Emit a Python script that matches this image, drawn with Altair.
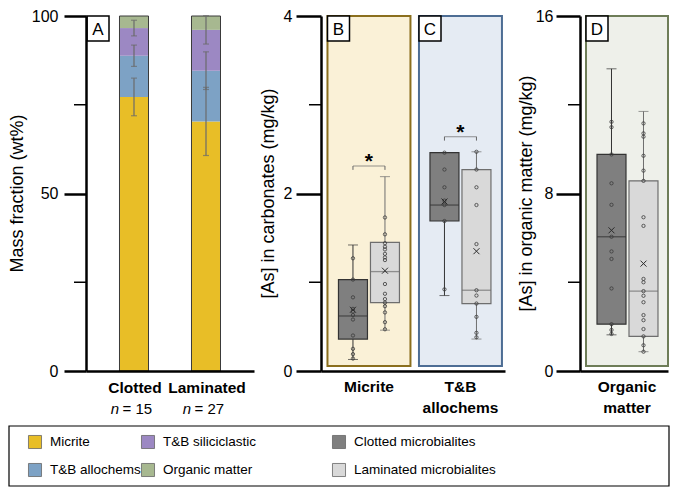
import altair as alt
import pandas as pd

# ---------------- Panel A : mass fractions (wt%) ----------------
categories = ["Clotted", "Laminated"]
sample_sizes = ["= 15", "= 27"]
components = ["Micrite", "T&B allochems", "T&B siliciclastic", "Organic matter"]
comp_colors = ["#E8BE27", "#7DA2C5", "#9C88C3", "#A7B890"]
clotted_wt = [77.2, 11.6, 7.8, 3.4]
laminated_wt = [70.3, 14.3, 11.5, 3.9]
# error bars (micrite, allochems, siliciclastic) drawn at the cumulative tops
clotted_sd = [5.3, 3.0, 2.2]
laminated_sd = [9.6, 5.3, 4.0]

# ---------------- Panels B-D : [As] (mg/kg) ----------------
series = ["Clotted microbialites", "Laminated microbialites"]
series_fill = ["#7F7F7F", "#D9D9D9"]
series_line = ["#333333", "#6E6E6E"]

carb_groups = ["Micrite", "T&B allochems"]
carb_labels = ["Micrite", "T&B\nallochems"]
carb_bg = ["#FAF1D7", "#E5EBF3"]
carb_edge = ["#8B6F1E", "#4D6D94"]
carb_sig = [2.31, 2.64]

om_groups = ["Organic matter"]
om_labels = ["Organic\nmatter"]
om_bg = ["#EEF0EA"]
om_edge = ["#6E7D58"]

micrite_clotted = [1.27, 1.03, 0.83, 0.70, 0.67, 0.63, 0.58, 0.40, 0.25, 0.19, 0.14]
micrite_laminated = [1.73, 1.54, 1.44, 1.40, 1.37, 1.32, 1.28, 1.25, 0.98, 0.87,
                     0.81, 0.77, 0.73, 0.66, 0.55, 0.47]
allochem_clotted = [2.46, 2.27, 2.07, 1.92, 1.87, 1.69, 0.92]
allochem_laminated = [2.47, 2.27, 2.07, 1.87, 1.43, 0.91, 0.85, 0.76, 0.61, 0.43, 0.38]
om_clotted = [11.23, 10.99, 9.76, 8.46, 7.49, 6.05, 5.39, 5.05, 3.72, 2.11, 1.85, 1.67]
om_laminated = [11.16, 10.71, 10.56, 9.70, 9.03, 8.57, 6.93, 6.54, 4.15, 4.00, 3.60,
                3.39, 3.10, 2.52, 2.29, 1.89, 1.56, 1.16, 0.87]

# box summaries: q1, median, q3, whisker low, whisker high, mean
micrite_clotted_box = [0.36, 0.62, 1.03, 0.13, 1.42, 0.69]
micrite_laminated_box = [0.77, 1.12, 1.45, 0.46, 2.19, 1.13]
allochem_clotted_box = [1.69, 1.87, 2.46, 0.85, 2.46, 1.91]
allochem_laminated_box = [0.76, 0.91, 2.27, 0.36, 2.47, 1.35]
om_clotted_box = [2.11, 6.05, 9.76, 1.63, 13.62, 6.34]
om_laminated_box = [1.56, 3.60, 8.57, 0.87, 11.70, 4.84]

# ---------------- legend ----------------
legend_labels = ["Micrite", "T&B allochems", "T&B siliciclastic", "Organic matter",
                 "Clotted microbialites", "Laminated microbialites"]
legend_colors = comp_colors + series_fill
legend_col = [0, 0, 1, 1, 2, 2]
legend_row = [0, 1, 0, 1, 0, 1]

FONT = "Liberation Sans"
H = 355
XSHAPE = "M-1,-1L1,1M-1,1L1,-1"


def y_axis(majors, tick, lab_pad):
    return alt.Axis(title=None, values=majors, tickSize=tick, tickWidth=2.5, tickColor="black",
                    domainWidth=2.5, domainColor="black", labelFontSize=16, labelColor="black",
                    labelPadding=lab_pad, grid=False, zindex=1)


x_axis = alt.Axis(title=None, labels=False, ticks=False, domainWidth=2.5,
                  domainColor="black", zindex=1)


def minor_ticks(vals, yscale, yax, length):
    return alt.Chart(pd.DataFrame({"m": vals})).mark_rule(color="black", strokeWidth=1.5).encode(
        y=alt.Y("m:Q", scale=yscale, axis=yax), x=alt.value(-length), x2=alt.value(0))


def y_title(text, xpos):
    return alt.Chart(pd.DataFrame({"t": [text]})).mark_text(
        angle=270, fontSize=18, color="black", align="center", baseline="middle").encode(
        x=alt.value(xpos), y=alt.value(H / 2), text="t:N")


def letter(ch, x0, w=22, h=25):
    d = pd.DataFrame({"t": [ch]})
    box = alt.Chart(d).mark_rect(fill="white", stroke="black", strokeWidth=1.5).encode(
        x=alt.value(x0), x2=alt.value(x0 + w), y=alt.value(0), y2=alt.value(h))
    txt = alt.Chart(d).mark_text(fontSize=17, color="black").encode(
        x=alt.value(x0 + w / 2), y=alt.value(h / 2 + 1), text="t:N")
    return [box, txt]


# ================= Panel A =================
rowsA, errA, totA = [], [], []
for cat, vals, sds in zip(categories, [clotted_wt, laminated_wt], [clotted_sd, laminated_sd]):
    cum = 0.0
    for k, (comp, v, col) in enumerate(zip(components, vals, comp_colors)):
        rowsA.append(dict(cat=cat, comp=comp, k=k, v=v, col=col))
        cum += v
        if k < len(sds):
            errA.append(dict(cat=cat, lo=cum - sds[k], hi=cum + sds[k]))
    totA.append(dict(cat=cat, total=cum))
dfA = pd.DataFrame(rowsA)
dfErr = pd.DataFrame(errA)
dfTot = pd.DataFrame(totA)
dfLabA = pd.DataFrame({"cat": categories, "n": sample_sizes})

WA = 168
xsA = alt.Scale(domain=categories, paddingInner=0.597, paddingOuter=0.465)
ysA = alt.Scale(domain=[0, 100], nice=False)
yaxA = y_axis([0, 50, 100], 22, 6)
XA = alt.X("cat:N", scale=xsA, axis=x_axis)

barsA = alt.Chart(dfA).mark_bar().encode(
    x=XA,
    y=alt.Y("v:Q", stack="zero", scale=ysA, axis=yaxA),
    fill=alt.Fill("col:N", scale=None),
    detail="comp:N",
    order=alt.Order("k:Q", sort="ascending"),
)
outlineA = alt.Chart(dfTot).mark_bar(fillOpacity=0, stroke="#3a3a3a", strokeWidth=1).encode(
    x=XA, y=alt.Y("total:Q", scale=ysA, axis=yaxA))
errRule = alt.Chart(dfErr).mark_rule(color="#6b6b6b", strokeWidth=1.2).encode(
    x=XA, y=alt.Y("lo:Q", scale=ysA, axis=yaxA), y2="hi:Q")
errLo = alt.Chart(dfErr).mark_tick(size=6, thickness=1.2, color="#6b6b6b").encode(
    x=XA, y=alt.Y("lo:Q", scale=ysA, axis=yaxA))
errHi = alt.Chart(dfErr).mark_tick(size=6, thickness=1.2, color="#6b6b6b").encode(
    x=XA, y=alt.Y("hi:Q", scale=ysA, axis=yaxA))
nameA = alt.Chart(dfLabA).mark_text(fontWeight="bold", fontSize=15.5, baseline="alphabetic",
                                    color="black", dx=1).encode(
    x=XA, y=alt.value(H + 22), text="cat:N")
nItA = alt.Chart(dfLabA).mark_text(fontStyle="italic", fontSize=15, align="right",
                                   baseline="alphabetic", color="black", dx=-15).encode(
    x=XA, y=alt.value(H + 43), text=alt.value("n"))
nValA = alt.Chart(dfLabA).mark_text(fontSize=15, align="left", baseline="alphabetic",
                                    color="black", dx=-11.5).encode(
    x=XA, y=alt.value(H + 43), text="n:N")

chartA = alt.layer(barsA, outlineA, errRule, errLo, errHi, minor_ticks([25, 75], ysA, yaxA, 12),
                   *letter("A", 1), nameA, nItA, nValA,
                   y_title("Mass fraction (wt%)", -68)).properties(width=WA, height=H)


# ================= Box-plot panels =================
def box_panel(groups, labels, bg, edge, pts, boxes, sig, ydom, majors, minors, title,
              title_x, W, xscale, xoscale, tick, lab_pad, letters):
    prow, brow = [], []
    for g, plist, blist in zip(groups, pts, boxes):
        for s, vals, b, f, l in zip(series, plist, blist, series_fill, series_line):
            for v in vals:
                prow.append(dict(group=g, series=s, value=v))
            brow.append(dict(group=g, series=s, q1=b[0], med=b[1], q3=b[2], lo=b[3],
                             hi=b[4], mean=b[5], fill=f, line=l))
    dfP = pd.DataFrame(prow)
    dfB = pd.DataFrame(brow)
    dfBg = pd.DataFrame({"group": groups, "bg": bg, "edge": edge, "label": labels})
    ys = alt.Scale(domain=ydom, nice=False)
    yax = y_axis(majors, tick, lab_pad)
    X = alt.X("group:N", scale=xscale, axis=x_axis)
    XO = alt.XOffset("series:N", scale=xoscale)

    def Y(f):
        return alt.Y(f"{f}:Q", scale=ys, axis=yax)

    layers = []
    layers.append(alt.Chart(dfBg).mark_bar(strokeWidth=2).encode(
        x=X, y=alt.value(0), y2=alt.value(H - 5),
        fill=alt.Fill("bg:N", scale=None), stroke=alt.Stroke("edge:N", scale=None)))
    layers += letters
    layers.append(alt.Chart(dfB).mark_rule(strokeWidth=1).encode(
        x=X, xOffset=XO, y=Y("lo"), y2="q1:Q", stroke=alt.Stroke("line:N", scale=None)))
    layers.append(alt.Chart(dfB).mark_rule(strokeWidth=1).encode(
        x=X, xOffset=XO, y=Y("q3"), y2="hi:Q", stroke=alt.Stroke("line:N", scale=None)))
    for fld in ["lo", "hi"]:
        layers.append(alt.Chart(dfB).mark_tick(size=10, thickness=1).encode(
            x=X, xOffset=XO, y=Y(fld), color=alt.Color("line:N", scale=None)))
    layers.append(alt.Chart(dfB).mark_bar(strokeWidth=1.2).encode(
        x=X, xOffset=XO, y=Y("q1"), y2="q3:Q",
        fill=alt.Fill("fill:N", scale=None), stroke=alt.Stroke("line:N", scale=None)))
    layers.append(alt.Chart(dfB).mark_tick(size=29, thickness=1.3).encode(
        x=X, xOffset=XO, y=Y("med"), color=alt.Color("line:N", scale=None)))
    layers.append(alt.Chart(dfP).mark_point(shape="circle", size=11, filled=False,
                                            strokeWidth=0.8, color="#3a3a3a", opacity=1).encode(
        x=X, xOffset=XO, y=Y("value")))
    layers.append(alt.Chart(dfB).mark_point(shape=XSHAPE, size=36, filled=False,
                                            strokeWidth=1, color="#2a2a2a", opacity=1).encode(
        x=X, xOffset=XO, y=Y("mean")))
    if sig:
        drop = 0.011 * (ydom[1] - ydom[0])
        dfS = pd.DataFrame({"group": groups, "by": sig})
        ends = []
        for g, b in zip(groups, sig):
            for s in series:
                ends.append(dict(group=g, series=s, by=b, by2=b - drop))
        dfSe = pd.DataFrame(ends)
        layers.append(alt.Chart(dfS).mark_tick(size=32, thickness=1, color="#666666").encode(
            x=X, y=Y("by")))
        layers.append(alt.Chart(dfSe).mark_rule(color="#666666", strokeWidth=1).encode(
            x=X, xOffset=XO, y=Y("by"), y2="by2:Q"))
        layers.append(alt.Chart(dfS).mark_text(text="*", fontSize=21, fontWeight="bold",
                                               baseline="alphabetic", dy=2, color="black").encode(
            x=X, y=Y("by")))
    layers.append(minor_ticks(minors, ys, yax, 12))
    layers.append(alt.Chart(dfBg).mark_text(fontWeight="bold", fontSize=15.5, baseline="top",
                                            lineBreak="\n", lineHeight=21, color="black").encode(
        x=X, y=alt.value(H + 9), text="label:N"))
    layers.append(y_title(title, title_x))
    return alt.layer(*layers).properties(width=W, height=H)


WBC = 184
xsBC = alt.Scale(domain=carb_groups, paddingInner=0.093, paddingOuter=0.052, align=0.68)
xoBC = alt.Scale(domain=series, paddingInner=0.094, paddingOuter=0.344)
chartBC = box_panel(carb_groups, carb_labels, carb_bg, carb_edge,
                    [[micrite_clotted, micrite_laminated], [allochem_clotted, allochem_laminated]],
                    [[micrite_clotted_box, micrite_laminated_box],
                     [allochem_clotted_box, allochem_laminated_box]],
                    carb_sig, [0, 4], [0, 2, 4], [1, 3], "[As] in carbonates (mg/kg)", -52,
                    WBC, xsBC, xoBC, 25, 4,
                    letter("B", 6.5) + letter("C", 98))

WD = 88
xsD = alt.Scale(domain=om_groups, paddingInner=0, paddingOuter=0.0366, align=1)
xoD = alt.Scale(domain=series, paddingInner=0.094, paddingOuter=0.328)
chartD = box_panel(om_groups, om_labels, om_bg, om_edge,
                   [[om_clotted, om_laminated]],
                   [[om_clotted_box, om_laminated_box]],
                   [], [0, 16], [0, 8, 16], [4, 12], "[As] in organic matter (mg/kg)", -53,
                   WD, xsD, xoD, 24, 3, letter("D", 6))

# ================= Legend =================
dfL = pd.DataFrame({"label": legend_labels, "c": legend_colors,
                    "col": legend_col, "row": legend_row})
LEFT, RIGHT, LH = -77, 583, 60
lx = alt.X("col:Q", scale=alt.Scale(domain=[0, 1, 2], range=[-51, 62, 253]), axis=None)
ly = alt.Y("row:Q", scale=alt.Scale(domain=[0, 1], range=[16, 44]), axis=None)
legBox = alt.Chart(pd.DataFrame({"b": [0]})).mark_rect(
    fill="white", stroke="black", strokeWidth=1.2).encode(
    x=alt.value(LEFT), x2=alt.value(RIGHT), y=alt.value(0), y2=alt.value(LH))
legSw = alt.Chart(dfL).mark_square(size=170, stroke="#666666", strokeWidth=0.8, opacity=1).encode(
    x=lx, y=ly, fill=alt.Fill("c:N", scale=None))
legTx = alt.Chart(dfL).mark_text(align="left", baseline="middle", dx=15, fontSize=13.5,
                                 color="black").encode(x=lx, y=ly, text="label:N")
legend = alt.layer(legBox, legSw, legTx).properties(width=RIGHT, height=LH)

top = alt.hconcat(alt.hconcat(chartA, chartBC, spacing=6), chartD, spacing=13)
chart = alt.vconcat(top, legend, spacing=8).properties(
    padding=0, background="white"
).configure(font=FONT).configure_view(strokeWidth=0)

chart.save("out.html", embed_options={"renderer": "svg", "actions": False})
